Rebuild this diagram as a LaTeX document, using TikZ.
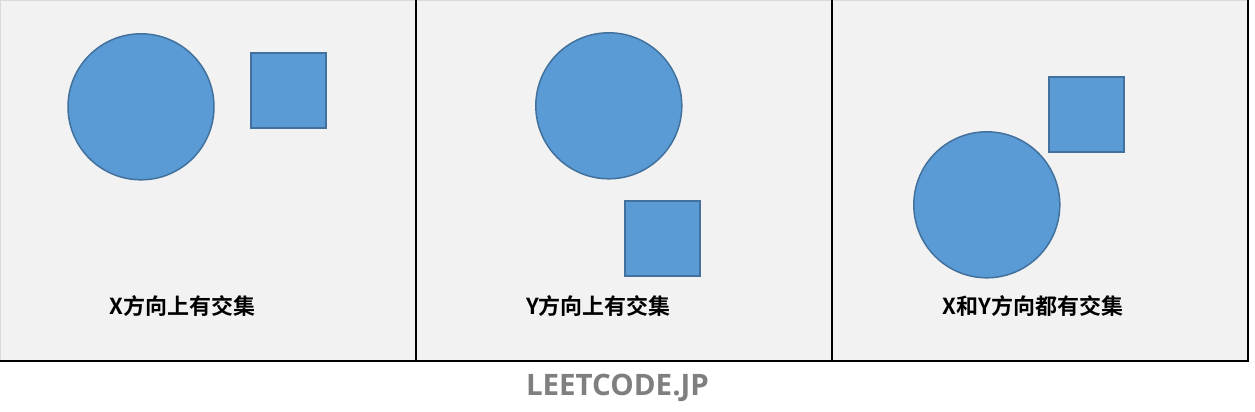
\documentclass[tikz,border=0pt]{standalone}
\usepackage{fontspec}
\newfontfamily\cjk{Noto Sans CJK SC}[BoldFont={Noto Sans CJK SC Bold}]
\newfontfamily\wmfont{Open Sans}
\definecolor{bgpanel}{HTML}{F2F2F2}
\definecolor{shapefill}{HTML}{5B9BD5}
\definecolor{shapeline}{HTML}{41719C}
\definecolor{frameline}{HTML}{D9D9D9}
\definecolor{wmgray}{HTML}{7F7F7F}
\begin{document}
\begin{tikzpicture}[x=1pt,y=-1pt,
  circ/.style={circle,fill=shapefill,draw=shapeline,line width=1.5pt,minimum size=146pt,inner sep=0pt},
  sq/.style={rectangle,fill=shapefill,draw=shapeline,line width=1.5pt,minimum size=75pt,inner sep=0pt},
  lbl/.style={font=\cjk\bfseries\fontsize{22}{26}\selectfont,text=black,inner sep=0pt},
  sep/.style={draw=black,line width=2pt}]
\useasboundingbox (0,0) rectangle (1255,412);
\fill[white] (0,0) rectangle (1255,412);
\fill[bgpanel] (0,0) rectangle (1248,360.5);
\draw[frameline,line width=1pt] (0.5,360) -- (0.5,0.5) -- (1248,0.5);
\coordinate (bl) at (0,360.5);
\coordinate (br) at (1248,360.5);
\coordinate (tr) at (1248,0);
\coordinate (d1t) at (416,0);
\coordinate (d1b) at (416,360.5);
\coordinate (d2t) at (832,0);
\coordinate (d2b) at (832,360.5);
\draw[sep] (bl) -- (br) -- (tr);
\draw[sep] (d1t) -- (d1b);
\draw[sep] (d2t) -- (d2b);
% panel 1
\node[circ] (c1) at (141,106.8) {};
\node[sq] (s1) at (288.3,90.3) {};
\node[lbl] (t1) at (182.5,306) {X方向上有交集};
% panel 2
\node[circ] (c2) at (608.8,105.8) {};
\node[sq] (s2) at (662.5,238.3) {};
\node[lbl] (t2) at (598.5,306) {Y方向上有交集};
% panel 3
\node[circ] (c3) at (986.8,204.8) {};
\node[sq] (s3) at (1086.3,114.3) {};
\node[lbl] (t3) at (1033,306) {X和Y方向都有交集};
% watermark
\node[font=\wmfont\bfseries\fontsize{29.5}{32}\selectfont,text=wmgray,inner sep=0pt] (wm) at (617.5,388) {LEETCODE.JP};
\end{tikzpicture}
\end{document}
